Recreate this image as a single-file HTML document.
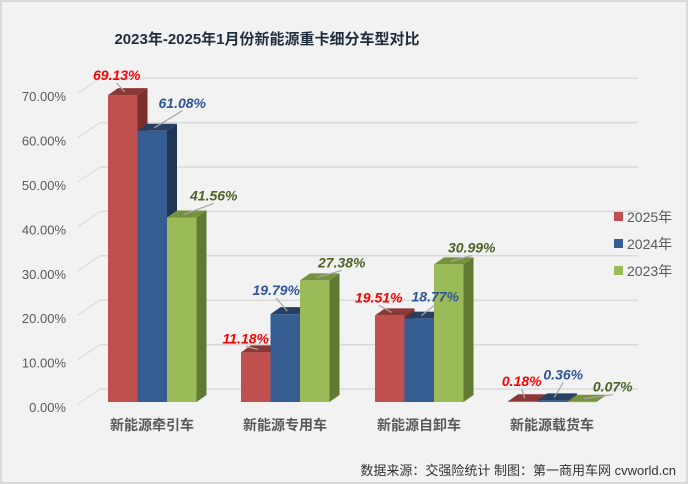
<!DOCTYPE html>
<html><head><meta charset="utf-8"><style>
html,body{margin:0;padding:0;background:#fff}
svg{display:block}
text{font-family:"Liberation Sans","Noto Sans CJK SC",sans-serif}
</style></head><body>
<svg id="chart" width="688" height="484" viewBox="0 0 688 484" xmlns="http://www.w3.org/2000/svg">
<rect x="1" y="1" width="686" height="482" fill="#f2f2f2" stroke="#d0d0d0" stroke-width="1.5"/>
<text x="267" y="44" text-anchor="middle" font-size="15" font-weight="bold" fill="#1f2d3d">2023年-2025年1月份新能源重卡细分车型对比</text>
<g id="grid"></g>
<g id="bars"></g>
<g id="labels"></g>
<g id="legend"></g>
<text x="676" y="475" text-anchor="end" font-size="13" fill="#333">数据来源：交强险统计  制图：第一商用车网 cvworld.cn</text>
</svg>
<script>
const categories = ["新能源牵引车","新能源专用车","新能源自卸车","新能源载货车"];
const seriesNames = ["2025年","2024年","2023年"];
const values2025 = [69.13, 11.18, 19.51, 0.18];
const values2024 = [61.08, 19.79, 18.77, 0.36];
const values2023 = [41.56, 27.38, 30.99, 0.07];
const tickValues = [0,10,20,30,40,50,60,70];
const tickLabels = ["0.00%","10.00%","20.00%","30.00%","40.00%","50.00%","60.00%","70.00%"];
// label offsets (layout) relative to bar top-centre
const labOff2025 = [[-6,-15],[-10,-9],[-11,-13],[-1,-15]];
const labOff2024 = [[30,-23],[-9,-19],[16,-17],[11,-21]];
const labOff2023 = [[32,-17],[27,-13],[23,-12],[31,-10]];

const NS="http://www.w3.org/2000/svg";
const svg=document.getElementById('chart');
const frontBase=402, pxPer=4.44, dx=10, dy=-7, gdx=10, gdy=-13;
const y=v=>frontBase-v*pxPer;
const groupX=[108,241,375,508], barW=29.5;
const colors=[["#c0504d","#8c3836","#7a2f2d"],["#355d91","#263f63","#203654"],["#9bbb59","#76923c","#617a32"]];
const labColors=["#ff0000","#2e5597","#4f6228"];
function el(tag,attrs,parent){const e=document.createElementNS(NS,tag);for(const k in attrs)e.setAttribute(k,attrs[k]);parent.appendChild(e);return e;}
const grid=document.getElementById('grid');
tickValues.forEach((t,i)=>{
  const yb=y(t)+gdy;
  const l=el('line',{x1:100,y1:yb,x2:638,y2:yb,stroke:"#d9d9d9","stroke-width":1.5},grid);
  
  
  const d=el('line',{x1:78,y1:y(t)+2,x2:100,y2:yb,stroke:"#d9d9d9","stroke-width":1},grid);
  
  
  const tx=el('text',{x:66,y:y(t)+10,"text-anchor":"end","font-size":13,fill:"#595959"},grid);
  tx.textContent=tickLabels[i];
  
  
});
const series=[values2025,values2024,values2023];
const offs=[labOff2025,labOff2024,labOff2023];
const bars=document.getElementById('bars'), labels=document.getElementById('labels');
categories.forEach((c,ci)=>{
  series.forEach((vals,si)=>{
    const x0=groupX[ci]+si*barW, x1=x0+barW, yt=y(vals[ci]);
    const g=el('g',{},bars);
    
    
    el('polygon',{points:`${x1},${yt} ${x1+dx},${yt+dy} ${x1+dx},${frontBase+dy} ${x1},${frontBase}`,fill:colors[si][2]},g);
    el('polygon',{points:`${x0},${yt} ${x0+dx},${yt+dy} ${x1+dx},${yt+dy} ${x1},${yt}`,fill:colors[si][1]},g);
    el('rect',{x:x0,y:yt,width:barW,height:Math.max(frontBase-yt,0.5),fill:colors[si][0]},g);
    const o=offs[si][ci], cx=(x0+x1)/2+o[0], cy=yt+o[1];
    const ln=el('line',{x1:(x0+x1)/2+2,y1:yt-3,x2:cx,y2:cy+3,stroke:"#a6a6a6","stroke-width":1.2},labels);
    
    
    const t=el('text',{x:cx,y:cy,"text-anchor":"middle","font-size":14,"font-weight":"bold","font-style":"italic",fill:labColors[si]},labels);
    t.textContent=vals[ci].toFixed(2)+"%";
    
    
  });
  const ct=el('text',{x:groupX[ci]+44,y:430,"text-anchor":"middle","font-size":14,"font-weight":"bold",fill:"#595959","font-family":"'Liberation Serif','Noto Serif CJK SC',serif"},labels);
  ct.textContent=c;
  
  
});
const legend=document.getElementById('legend');
seriesNames.forEach((n,i)=>{
  const g=el('g',{},legend);
  
  
  el('rect',{x:614,y:212+i*27,width:9,height:9,fill:colors[i][0]},g);
  const t=el('text',{x:627,y:222+i*27,"font-size":14,fill:"#595959"},g);
  t.textContent=n;
});
</script>
</body></html>
